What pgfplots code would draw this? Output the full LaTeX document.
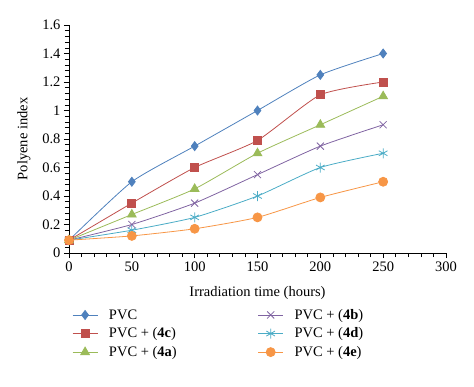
\documentclass[border=0pt]{standalone}
\usepackage{fontspec}
\setmainfont{Liberation Serif}
\usepackage{pgfplots}
\pgfplotsset{compat=1.18}
\definecolor{cPVC}{HTML}{4F81BD}
\definecolor{cC}{HTML}{C0504D}
\definecolor{cA}{HTML}{9BBB59}
\definecolor{cB}{HTML}{8064A2}
\definecolor{cD}{HTML}{4BACC6}
\definecolor{cE}{HTML}{F79646}
\begin{document}
\begin{tikzpicture}[font=\fontsize{14}{17}\selectfont]
\begin{axis}[
  name=ax,
  scale only axis,
  width=377pt, height=228pt,
  xmin=0, xmax=300, ymin=0, ymax=1.6,
  axis x line=bottom, axis y line=left,
  axis line style={-, black, line width=0.8pt},
  xtick={0,50,...,300}, ytick={0,0.2,...,1.6},
  yticklabels={0,0.2,0.4,0.6,0.8,1,1.2,1.4,1.6},
  minor x tick num=4, minor y tick num=4,
  tick align=outside,
  major tick length=5pt, minor tick length=4pt,
  every tick/.style={black, line width=0.6pt},
  /pgf/number format/assume math mode=true,
  tick label style={font=\fontsize{14.5}{17}\selectfont},
  label style={font=\fontsize{14.5}{17}\selectfont},
  xlabel={Irradiation time (hours)},
  ylabel={Polyene index},
  xlabel style={yshift=-8pt},
  ylabel style={yshift=5pt},
  legend style={draw=none, at={(0,0)}, anchor=north west, yshift=-52pt,
    font=\fontsize{14.5}{17}\selectfont,
    /tikz/every even column/.append style={column sep=79pt},
    /tikz/every odd column/.append style={column sep=9pt},
    row sep=3pt, cells={anchor=west}},
  legend columns=2,
  legend image code/.code={\draw[mark repeat=2,mark phase=2] plot coordinates {(0pt,0pt) (12.5pt,0pt) (25pt,0pt)};},
  every axis plot/.append style={smooth, tension=0.35, line width=0.8pt},
]
\addplot[cPVC, mark=diamond*, mark size=4.5pt, mark options={fill=cPVC}] coordinates {(0,0.09)(50,0.5)(100,0.75)(150,1.0)(200,1.25)(250,1.4)};
\addlegendentry{PVC}
\addplot[cB, mark=x, mark size=5pt] coordinates {(0,0.09)(50,0.20)(100,0.35)(150,0.55)(200,0.75)(250,0.90)};
\addlegendentry{PVC + (\textbf{4b})}
\addplot[cC, mark=square*, mark size=4pt, mark options={fill=cC}] coordinates {(0,0.09)(50,0.35)(100,0.6)(150,0.79)(200,1.11)(250,1.2)};
\addlegendentry{PVC + (\textbf{4c})}
\addplot[cD, mark=asterisk, mark size=5pt] coordinates {(0,0.09)(50,0.16)(100,0.25)(150,0.40)(200,0.60)(250,0.70)};
\addlegendentry{PVC + (\textbf{4d})}
\addplot[cA, mark=triangle*, mark size=5pt, mark options={fill=cA}] coordinates {(0,0.09)(50,0.27)(100,0.45)(150,0.70)(200,0.90)(250,1.10)};
\addlegendentry{PVC + (\textbf{4a})}
\addplot[cE, mark=*, mark size=4.5pt, mark options={fill=cE}] coordinates {(0,0.09)(50,0.12)(100,0.17)(150,0.25)(200,0.39)(250,0.50)};
\addlegendentry{PVC + (\textbf{4e})}
\end{axis}
\path ([xshift=-69pt,yshift=-133pt]ax.south west) rectangle ([xshift=28pt,yshift=25pt]ax.north east);
\end{tikzpicture}
\end{document}
